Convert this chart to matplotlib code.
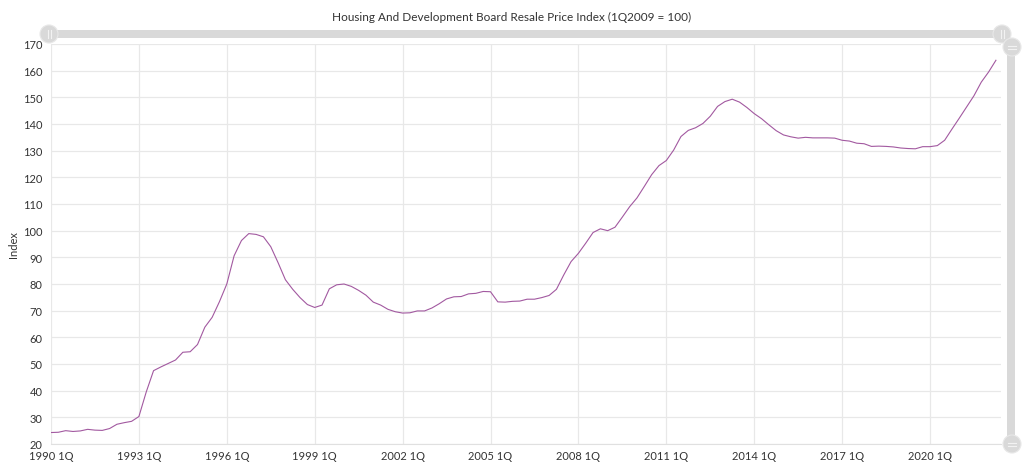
import matplotlib
matplotlib.use("Agg")
import matplotlib.pyplot as plt
from matplotlib.patches import Rectangle, Circle

plt.rcParams["font.family"] = ["Lato", "DejaVu Sans"]

# HDB resale price index, quarterly, 1990 1Q .. 2022 2Q
start_year = 1990
index_values = [
    24.3, 24.4, 25.0, 24.7, 24.9, 25.5, 25.2, 25.1,          # 1990-1991
    25.8, 27.4, 28.0, 28.5, 30.3, 39.5, 47.5, 48.9,          # 1992-1993
    50.2, 51.5, 54.4, 54.6, 57.3, 63.8, 67.5, 73.4,          # 1994-1995
    80.0, 90.6, 96.3, 98.9, 98.6, 97.7, 94.0, 88.0,          # 1996-1997
    81.6, 78.0, 74.9, 72.3, 71.2, 72.1, 78.2, 79.7,          # 1998-1999
    80.0, 79.1, 77.6, 75.8, 73.2, 72.1, 70.5, 69.6,          # 2000-2001
    69.1, 69.2, 69.9, 69.9, 71.0, 72.6, 74.4, 75.2,          # 2002-2003
    75.3, 76.3, 76.5, 77.2, 77.1, 73.3, 73.2, 73.5,          # 2004-2005
    73.6, 74.3, 74.3, 74.9, 75.7, 78.0, 83.4, 88.4,          # 2006-2007
    91.5, 95.3, 99.3, 100.7, 100.0, 101.3, 105.1, 109.0,     # 2008-2009
    112.3, 116.6, 121.0, 124.4, 126.3, 130.2, 135.3, 137.6,  # 2010-2011
    138.6, 140.2, 142.9, 146.6, 148.4, 149.3, 148.2, 146.2,  # 2012-2013
    143.9, 142.0, 139.7, 137.5, 135.9, 135.2, 134.7, 135.0,  # 2014-2015
    134.8, 134.8, 134.8, 134.7, 133.9, 133.6, 132.8, 132.6,  # 2016-2017
    131.6, 131.7, 131.6, 131.4, 131.0, 130.8, 130.7, 131.5,  # 2018-2019
    131.5, 131.9, 133.9, 138.1, 142.2, 146.4, 150.6, 155.7,  # 2020-2021
    159.5, 163.9,                                            # 2022
]
quarters = list(range(len(index_values)))
tick_positions = list(range(0, len(index_values), 12))
tick_labels = [f"{start_year + q // 4} 1Q" for q in tick_positions]
y_ticks = list(range(20, 171, 10))

W, H = 1024, 464
fig = plt.figure(figsize=(W / 100, H / 100), dpi=100)
left, right, top, bottom = 51, 1001, 45, 445
ax = fig.add_axes([left / W, 1 - bottom / H, (right - left) / W, (bottom - top) / H])

ax.plot(quarters, index_values, color="#a259a0", linewidth=0.8)
ax.set_xlim(0, (right - left) / (930 - left) * 120)
ax.set_ylim(20, 170)
ax.set_xticks(tick_positions)
ax.set_xticklabels(tick_labels)
ax.set_yticks(y_ticks)
ax.grid(True, color="#e8e8e8", linewidth=0.9)
ax.set_axisbelow(True)
for side in ["top", "right", "left"]:
    ax.spines[side].set_visible(False)
ax.spines["bottom"].set_color("#e0e0e0")
ax.tick_params(length=0, labelsize=8, colors="#333333", pad=4)
ax.tick_params(axis="y", pad=6)
ax.set_ylabel("Index", fontsize=8, color="#333333", labelpad=3)

fig.text(0.5, 1 - 17 / H, "Housing And Development Board Resale Price Index (1Q2009 = 100)",
         ha="center", va="center", fontsize=8.5, color="#333333")

# scrollbar decorations in pixel space
ov = fig.add_axes([0, 0, 1, 1], zorder=5)
ov.set_xlim(0, W)
ov.set_ylim(H, 0)
ov.axis("off")
bar = "#d9d9d9"
ov.add_patch(Rectangle((50, 31), 952, 8, color=bar, lw=0))
ov.add_patch(Rectangle((1007, 48), 8, 397, color=bar, lw=0))
for cx, cy, mark in [(49, 35, "v"), (1002, 35, "v"), (1012, 48, "h"), (1012, 445, "h")]:
    ov.add_patch(Circle((cx, cy), 9, facecolor=bar, edgecolor="#e8e8e8", lw=0.8))
    if mark == "v":
        ov.plot([cx - 1.5, cx - 1.5], [cy - 4, cy + 4], color="#f2f2f2", lw=0.8)
        ov.plot([cx + 1.5, cx + 1.5], [cy - 4, cy + 4], color="#f2f2f2", lw=0.8)
    else:
        ov.plot([cx - 4, cx + 4], [cy - 1.5, cy - 1.5], color="#f2f2f2", lw=0.8)
        ov.plot([cx - 4, cx + 4], [cy + 1.5, cy + 1.5], color="#f2f2f2", lw=0.8)

fig.savefig("out.png", dpi=100)
